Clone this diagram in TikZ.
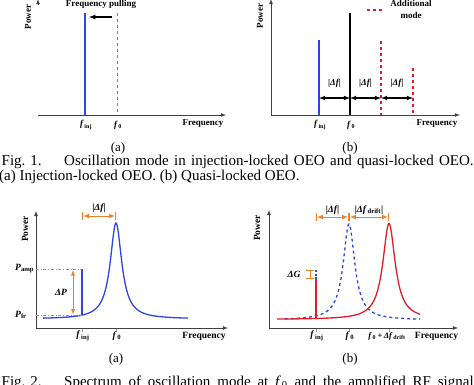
\documentclass[tikz,border=0pt]{standalone}
\usepackage{fontspec}
\setmainfont{Liberation Serif}
\usetikzlibrary{arrows,positioning}

\definecolor{injblue}{RGB}{45,70,225}
\definecolor{pullviolet}{RGB}{120,105,235}
\definecolor{modered}{RGB}{225,30,40}
\definecolor{gainorange}{RGB}{235,130,40}

\newcommand{\fsub}[1]{{\itshape f}\,\textsubscript{#1}}
\newcommand{\dlt}{{\itshape Δ}}

\tikzset{
  axisline/.style={draw=black!75,line width=0.8pt,-latex},
  axlbl/.style={font=\fontsize{9}{10}\selectfont\bfseries,inner sep=0pt},
  biglbl/.style={font=\fontsize{9.5}{11}\selectfont\bfseries,inner sep=0pt},
  sublabel/.style={font=\fontsize{13}{15}\selectfont,inner sep=0pt},
  captext/.style={font=\fontsize{15}{16}\selectfont,inner sep=0pt,anchor=base west},
  injline/.style={draw=injblue,line width=1.3pt},
  darrow/.style={latex-latex,line width=1.1pt},
  orangebar/.style={draw=gainorange,line width=1pt,|<->|,>=latex},
  xtick/.style={draw=black!40,line width=0.5pt}
}

\begin{document}
\begin{tikzpicture}[x=1pt,y=-1pt,
  declare function={lor(\t,\c,\w)=96/(1+((\t-\c)/\w)*((\t-\c)/\w));}]
\useasboundingbox (0,0) rectangle (474,385);
\clip (0,0) rectangle (474,385);

% Fig. 1 (a)
\coordinate (aorig) at (38,115);
\coordinate (aend) at (226,115);
\coordinate (ystub) at (38,5);
\coordinate (ytop) at (38,-1);
\draw[axisline] (aorig) -- (aend);
\draw[axisline] (ystub) -- (ytop);
\node[axlbl,rotate=90] (apower) at (28,17) {Power};
\coordinate (ainjtop) at (85,13);
\coordinate (ainjbot) at (85,115);
\coordinate (afotop) at (117,13);
\coordinate (afobot) at (117,115);
\draw[injline] (ainjtop) -- (ainjbot);
\draw[pullviolet,dashed,line width=1pt] (afotop) -- (afobot);
\coordinate (pullfrom) at (112,17);
\coordinate (pullto) at (89,17);
\draw[-latex,line width=1.2pt] (pullfrom) -- (pullto);
\node[axlbl] (pull) at (101,4.5) {Frequency pulling};
\node[axlbl] (afinj) at (86,125) {\fsub{inj}};
\node[axlbl] (af0) at (118,125) {\fsub{0}};
\node[axlbl] (afreq) at (203,124) {Frequency};
\node[sublabel] (acap) at (118,148.5) {(a)};

% Fig. 1 (b)
\coordinate (borig) at (271,115);
\coordinate (bend) at (460,115);
\coordinate (btop) at (271,-1);
\draw[axisline] (borig) -- (bend);
\draw[axisline] (borig) -- (btop);
\node[axlbl,rotate=90] (bpower) at (260,16) {Power};
\coordinate (binjtop) at (319,40);
\coordinate (binjbot) at (319,115);
\coordinate (bfotop) at (350,13);
\coordinate (bfobot) at (350,115);
\coordinate (bm1top) at (381,41);
\coordinate (bm1bot) at (381,115);
\coordinate (bm2top) at (413,68);
\coordinate (bm2bot) at (413,115);
\draw[injline] (binjtop) -- (binjbot);
\draw[line width=1.3pt] (bfotop) -- (bfobot);
\draw[modered,dashed,line width=1.3pt] (bm1top) -- (bm1bot);
\draw[modered,dashed,line width=1.3pt] (bm2top) -- (bm2bot);
\coordinate (d1) at (319,98);
\coordinate (d2) at (350,98);
\coordinate (d3) at (381,98);
\coordinate (d4) at (413,98);
\draw[darrow] (d1) -- (d2);
\draw[darrow] (d2) -- (d3);
\draw[darrow] (d3) -- (d4);
\node[axlbl] (bdf1) at (334.5,83) {|\dlt{\itshape f}|};
\node[axlbl] (bdf2) at (365.5,83) {|\dlt{\itshape f}|};
\node[axlbl] (bdf3) at (397,83) {|\dlt{\itshape f}|};
\coordinate (legfrom) at (367,10);
\coordinate (legto) at (384,10);
\draw[modered,dashed,line width=1.2pt] (legfrom) -- (legto);
\node[axlbl,align=center,font=\fontsize{9}{12}\selectfont\bfseries] (legtext) at (411,9) {Additional\\mode};
\node[axlbl] (bfinj) at (320,125) {\fsub{inj}};
\node[axlbl] (bf0) at (351,125) {\fsub{0}};
\node[axlbl] (bfreq) at (437,124) {Frequency};
\node[sublabel] (bcap) at (350,148.5) {(b)};

% caption of Fig. 1
\node[captext] (capone) at (1.5,165) {\makebox[472pt][s]{\mbox{Fig. 1.}\hspace{1.5em}Oscillation mode in injection-locked OEO and quasi-locked OEO.}};
\node[captext] (captwo) at (-1,180) {(a) Injection-locked OEO. (b) Quasi-locked OEO.};

% Fig. 2 (a)
\coordinate (corig) at (36,328);
\coordinate (cend) at (228,328);
\coordinate (ctop) at (36,211);
\draw[axisline] (corig) -- (cend);
\draw[axisline] (corig) -- (ctop);
\node[biglbl,rotate=90] (cpower) at (25,229) {Power};
\draw[injblue,line width=1.3pt] plot[domain=43:188,samples=220] (\x,{319-lor(\x,116,7)});
\coordinate (cinjtop) at (82,269);
\coordinate (cinjbot) at (82,315.2);
\draw[injline] (cinjtop) -- (cinjbot);
\coordinate (campl) at (36,269);
\coordinate (cfrl) at (36,315.2);
\draw[gainorange,dash dot,line width=1pt] (campl) -- (cinjtop);
\draw[gainorange,dash dot,line width=1pt] (cfrl) -- (cinjbot);
\coordinate (dpt) at (73,270);
\coordinate (dpb) at (73,314.5);
\draw[gainorange,line width=0.9pt,latex-latex] (dpt) -- (dpb);
\node[biglbl] (dp) at (61,292) {\dlt{\itshape P}};
\node[biglbl,anchor=west] (pamp) at (15,269) {{\itshape P}\textsubscript{amp}};
\node[biglbl,anchor=west] (pfr) at (15,315) {{\itshape P}\textsubscript{fr}};
\coordinate (cdfl) at (82,216);
\coordinate (cdfr) at (116,216);
\draw[orangebar] (cdfl) -- (cdfr);
\node[biglbl] (cdf) at (99,208) {|\dlt{\itshape f}|};
\coordinate (ctk1) at (82,329);
\coordinate (ctk1b) at (82,332);
\coordinate (ctk2) at (116,329);
\coordinate (ctk2b) at (116,332);
\draw[xtick] (ctk1) -- (ctk1b);
\draw[xtick] (ctk2) -- (ctk2b);
\node[biglbl] (cfinj) at (83,336) {\fsub{inj}};
\node[biglbl] (cf0) at (117,336) {\fsub{0}};
\node[biglbl] (cfreq) at (204,336) {Frequency};
\node[sublabel] (ccap) at (116,359) {(a)};

% Fig. 2 (b)
\coordinate (dorig) at (269,328);
\coordinate (dend) at (458,328);
\coordinate (dtop) at (269,210);
\draw[axisline] (dorig) -- (dend);
\draw[axisline] (dorig) -- (dtop);
\node[biglbl,rotate=90] (dpower) at (257,228) {Power};
\draw[injblue,dashed,line width=1.3pt] plot[domain=285:420,samples=220] (\x,{320-lor(\x,349,7)});
\draw[modered,line width=1.3pt] plot[domain=277:420,samples=220] (\x,{319.5-lor(\x,389,7.5)});
\coordinate (dinjtop) at (316,279);
\coordinate (dinjbot) at (316,318.6);
\coordinate (dgaptop) at (316,270);
\draw[modered,line width=1.3pt] (dinjtop) -- (dinjbot);
\draw[injblue,line width=1.3pt,dash pattern=on 2pt off 1.5pt] (dgaptop) -- (dinjtop);
\coordinate (dgt) at (310,270);
\coordinate (dgb) at (310,279);
\draw[gainorange,line width=1pt,|-|] (dgt) -- (dgb);
\node[biglbl] (dg) at (294,274) {\dlt{\itshape G}};
\coordinate (ddf1) at (316,217);
\coordinate (ddf2) at (349,217);
\coordinate (ddf3) at (389,217);
\draw[orangebar] (ddf1) -- (ddf2);
\draw[orangebar] (ddf2) -- (ddf3);
\node[biglbl] (ddfa) at (332.5,210) {|\dlt{\itshape f}|};
\node[biglbl] (ddfb) at (369,210) {|\dlt{\itshape f}\,\textsubscript{drift}|};
\coordinate (dtk1) at (316,329);
\coordinate (dtk1b) at (316,332);
\coordinate (dtk2) at (349,329);
\coordinate (dtk2b) at (349,332);
\coordinate (dtk3) at (389,329);
\coordinate (dtk3b) at (389,332);
\draw[xtick] (dtk1) -- (dtk1b);
\draw[xtick] (dtk2) -- (dtk2b);
\draw[xtick] (dtk3) -- (dtk3b);
\node[biglbl] (dfinj) at (317,336) {\fsub{inj}};
\node[biglbl] (df0) at (350,336) {\fsub{0}};
\node[biglbl,font=\fontsize{8.5}{10}\selectfont\bfseries] (dfsum) at (387,336) {\fsub{0}\,+\,\dlt{\itshape f}\,\textsubscript{drift}};
\node[biglbl] (dfreq) at (436.5,336) {Frequency};
\node[sublabel] (dcap) at (350,359) {(b)};

% caption of Fig. 2, cut by the page edge
\node[captext] (capthree) at (1.5,386) {\makebox[472pt][s]{\mbox{Fig. 2.}\hspace{1.5em}Spectrum of oscillation mode at \fsub{0} and the amplified RF signal}};
\end{tikzpicture}
\end{document}
